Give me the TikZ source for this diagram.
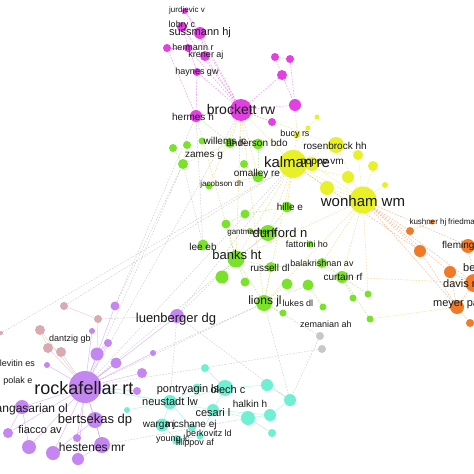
\documentclass[tikz,border=0pt]{standalone}
\usepackage{fontspec}
\setmainfont{Liberation Sans}
\usetikzlibrary{backgrounds}
\definecolor{cmag}{RGB}{226,64,226}
\definecolor{cyel}{RGB}{232,240,40}
\definecolor{cgrn}{RGB}{122,226,40}
\definecolor{corg}{RGB}{240,122,40}
\definecolor{cpur}{RGB}{196,134,240}
\definecolor{cpnk}{RGB}{218,170,176}
\definecolor{ccyn}{RGB}{112,240,210}
\definecolor{cgry}{RGB}{200,200,200}
\tikzset{
    dot/.style={circle,inner sep=0pt,minimum size=#1pt},
    lab/.style={inner sep=0pt,text=black!90,font=\fontsize{#1}{#1}\selectfont},
    link/.style={line width=0.55pt,dash pattern=on 1.6pt off 1.4pt,draw opacity=0.5},
    spoke/.style={line width=0.5pt,draw opacity=0.55}
}

\begin{document}
\begin{tikzpicture}[x=1pt,y=-1pt]
  \useasboundingbox (0,0) rectangle (474,474);
  \foreach \n/\x/\y/\d in {jurd/185/11/6,lobry/182/27/10,suss/200/33/12,herm/167/48/8,hermB/188/48/8,
      krener/205/56/10,haynes/197/72/8,brock/241/110/22,hermes/196/116/12,m1/275/57/8,m2/290/59/8,
      m3/282/75/10,m4/295/105/12,m5/272/122/8}
    {\node[dot=\d,fill=cmag] (\n) at (\x,\y) {};}
  \foreach \n/\x/\y/\d in {bucy/297/135/7,rosen/336/145/16,kalman/293/164/28,popov/312/164/14,
      wonham/363/200/27,y1/358/155/10,y2/373/166/10,y3/348/177/12,y4/385/185/6,y5/327/188/14,
      y6/317/117/5,y7/308/128/5}
    {\node[dot=\d,fill=cyel] (\n) at (\x,\y) {};}
  \foreach \n/\x/\y/\d in {willems/230/143/10,anders/258/144/11,zames/183/164/10,g1/173/148/8,
      g2/187/145/8,g3/202/141/7,omalley/258/177/11,jacob/209/186/7,g4/244/164/8,hille/287/207/11,
      g5/245/214/9,g6/226/224/9,gantm/250/231/6,dunford/268/233/16,fatt/310/244/7,lee/203/245/11,
      banks/236/259/17,russell/271/267/10,bala/322/263/10,g7/222/277/13,g8/245/282/9,g9/287/284/11,
      g10/308/285/11,curtain/342/277/12,lions/264/303/16,lukes/283/313/7,g11/323/307/7,
      g12/353/298/7,g13/368/294/7,g14/370/319/7}
    {\node[dot=\d,fill=cgrn] (\n) at (\x,\y) {};}
  \foreach \n/\x/\y/\d in {zeman/320/336/8,zemanB/322/349/8}
    {\node[dot=\d,fill=cgry] (\n) at (\x,\y) {};}
  \foreach \n/\x/\y/\d in {kush/410/231/8,o4/432/222/5,o1/420/251/12,fleming/468/246/14,
      bens/450/272/12,davis/474/283/18,meyer/457/307/14,o3/470/323/8}
    {\node[dot=\d,fill=corg] (\n) at (\x,\y) {};}
  \foreach \n/\x/\y/\d in {p1/64/306/8,p2/98/319/8,p3/40/330/10,p4/48/348/10,p5/61/352/10,p6/1/333/4}
    {\node[dot=\d,fill=cpnk] (\n) at (\x,\y) {};}
  \foreach \n/\x/\y/\d in {luen/177/316/14,rock/85/387/32,mang/22/407/14,bert/95/420/16,
      fiacco/8/433/10,hest/102/445/16,u1/115/306/9,u2/92/331/6,u3/108/343/8,u4/97/354/13,
      u5/116/363/11,levitin/47/365/6,u7/142/373/10,u8/137/391/8,u9/29/447/14,u10/53/453/14,
      u11/77/438/8,u12/78/459/12,u13/153/353/6}
    {\node[dot=\d,fill=cpur] (\n) at (\x,\y) {};}
  \foreach \n/\x/\y/\d in {pont/197/388/9,olech/225/388/16,neust/170/402/14,halkin/267/385/12,
      cesari/213/410/12,warga/162/425/13,mcsh/192/428/8,berk/200/436/7,young/177/440/10,
      c1/205/368/8,c2/290/400/12,c3/248/418/14,c4/270/415/12,c5/272/433/8,c6/127/410/6}
    {\node[dot=\d,fill=ccyn] (\n) at (\x,\y) {};}

  \begin{scope}[on background layer]
    \fill[white] (0,0) rectangle (474,474);
    \foreach \a/\b in {rock/zames,rock/kalman,luen/kalman,luen/banks,rock/lions,luen/neust,
        hermes/lee,zames/lee,u1/zames,p1/kalman,p6/kalman,rock/brock,u1/hermes,lions/c2,
        zeman/c2,zemanB/rock,hest/c3,rock/dunford,luen/c2,p2/luen,u13/lions,lions/zeman}
      \draw[link,black!35] (\a) -- (\b);
    \foreach \a/\b in {kalman/banks,kalman/lions,wonham/lions,wonham/banks,brock/banks,
        brock/lions,dunford/kalman,wonham/curtain,wonham/bala,brock/willems,brock/jacob,
        brock/omalley,kalman/hille,davis/curtain,meyer/g14,wonham/g13,banks/hermes}
      \draw[link,cyel!60!corg] (\a) -- (\b);
    \foreach \a/\b in {brock/suss,brock/lobry,brock/hermB,brock/krener,brock/haynes,brock/hermes,
        brock/m3,brock/m4,brock/m5,brock/jurd,suss/lobry,suss/krener,herm/hermB,hermB/krener,
        haynes/hermes,herm/hermes,m1/m2,m1/m3,m2/m4,m3/m4,jurd/suss,lobry/haynes}
      \draw[link,cmag] (\a) -- (\b);
    \foreach \a/\b in {kalman/bucy,kalman/rosen,kalman/popov,kalman/y3,kalman/y5,kalman/wonham,
        kalman/y7,wonham/y1,wonham/y2,wonham/y3,wonham/y4,wonham/y5,wonham/rosen,wonham/popov,
        rosen/y1,y6/y7,y7/bucy,brock/kalman,m4/bucy,brock/rosen}
      \draw[link,cyel!85!corg] (\a) -- (\b);
    \foreach \a/\b in {banks/lee,banks/dunford,banks/russell,banks/lions,banks/g7,banks/g8,
        banks/g6,dunford/fatt,dunford/hille,dunford/gantm,lions/lukes,lions/g9,lions/g10,
        curtain/bala,curtain/g12,curtain/g13,russell/bala,willems/anders,willems/zames,
        zames/g1,zames/g2,g3/willems,omalley/anders,omalley/jacob,g4/omalley,g5/g6,hille/g5,
        lions/russell,curtain/g14,g10/g11,hermes/willems}
      \draw[link,cgrn] (\a) -- (\b);
    \foreach \a/\b in {wonham/kush,wonham/o1,wonham/fleming,wonham/bens,wonham/davis,
        wonham/meyer,kalman/o1,fleming/davis,davis/meyer,bens/davis,meyer/o3,kush/o4,
        bens/meyer,o1/meyer}
      \draw[link,corg] (\a) -- (\b);
    \foreach \a/\b in {p1/p2,p3/p4,p4/p5,p5/rock,p4/rock,p3/rock,p2/u4}
      \draw[spoke,cpnk] (\a) -- (\b);
    \foreach \b in {u1,u2,u3,u4,u5,levitin,u7,u8,u9,u10,u11,u12,u13,mang,bert,fiacco,hest,luen}
      \draw[spoke,cpur] (rock) -- (\b);
    \foreach \a/\b in {bert/u10,bert/hest,mang/fiacco,mang/u9,hest/u12,u4/u3}
      \draw[spoke,cpur] (\a) -- (\b);
    \draw[spoke,ccyn,line width=0.8pt] (rock) -- (neust);
    \foreach \a/\b in {neust/pont,neust/olech,neust/warga,neust/cesari,neust/mcsh,neust/c6,
        olech/c1,olech/cesari,olech/halkin,cesari/c3,cesari/c4,halkin/c2,c3/c5,warga/young,
        warga/mcsh,berk/young,cesari/berk,c4/c2,c3/c4}
      \draw[spoke,ccyn] (\a) -- (\b);
  \end{scope}

  \foreach \n/\x/\y/\s/\t in {jurd/187/10/8/jurdjevic v,lobry/182/25/9/lobry c,
      suss/200/33/11/sussmann hj,herm/193/47/9/hermann r,krener/206/55/9/krener aj,
      haynes/197/72/9/haynes gw,brock/241/109/14/brockett rw,hermes/193/117/10/hermes h,
      willems/225/142/10/willems jc,anders/257/143/10/anderson bdo,zames/204/156/10/zames g,
      bucy/295/134/9/bucy rs,rosen/335/146/10/rosenbrock hh,kalman/297/162/15/kalman re,
      popov/322/163/10/popov vm,omalley/257/174/10/omalley re,jacob/222/184/8/jacobson dh,
      wonham/363/201/15/wonham wm,hille/290/207/10/hille e,gantm/252/232/8/gantmacher fr,
      dunford/280/233/13/dunford n,fatt/307/244/9/fattorini ho,lee/203/247/10/lee eb,
      banks/237/255/13/banks ht,russell/270/268/10/russell dl,bala/322/263/9/balakrishnan av,
      curtain/343/277/10/curtain rf,lions/265/301/12/lions jl,lukes/298/303/9/lukes dl,
      zeman/326/324/9/zemanian ah,kush/428/222/8/kushner hj,luen/176/319/13/luenberger dg,
      dantzig/70/339/9/dantzig gb,polak/18/381/9/polak e,rock/84/388/18/rockafellar rt,
      bert/95/420/13/bertsekas dp,fiacco/40/430/11/fiacco av,hest/92/447/12/hestenes mr,
      pont/188/390/11/pontryagin ls,olech/228/390/11/olech c,neust/170/402/11/neustadt lw,
      halkin/250/404/10/halkin h,cesari/213/413/11/cesari l,warga/159/425/10/warga j,
      mcsh/191/425/10/mcshane ej,berk/209/433/9/berkovitz ld,young/173/439/9/young lc,
      filip/195/443/9/filippov af}
    {\node[lab=\s] (\n-l) at (\x,\y) {\t};}
  \node[lab=8,anchor=west] (fried-l) at (448,222) {friedman a};
  \node[lab=10,anchor=west] (fleming-l) at (442,246) {fleming wh};
  \node[lab=11,anchor=west] (bens-l) at (463,268) {bensoussan a};
  \node[lab=11,anchor=west] (davis-l) at (443,284) {davis mh};
  \node[lab=11,anchor=west] (meyer-l) at (433,305) {meyer pa};
  \node[lab=9,anchor=east] (levitin-l) at (35,363) {levitin es};
  \node[lab=12,anchor=east] (mang-l) at (68,409) {mangasarian ol};
\end{tikzpicture}
\end{document}
